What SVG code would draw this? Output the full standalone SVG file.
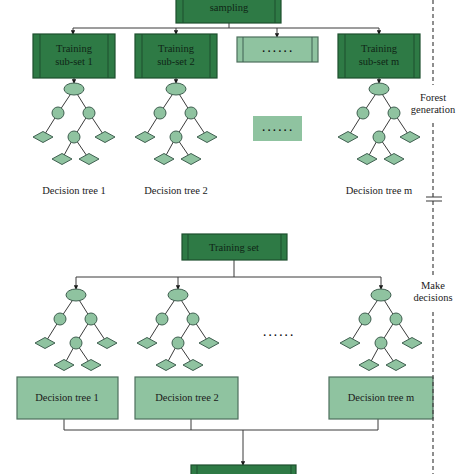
<svg xmlns="http://www.w3.org/2000/svg" xmlns:xlink="http://www.w3.org/1999/xlink" width="474" height="474" viewBox="0 0 474 474">
<style>
.dark{fill:#2e7a45;stroke:#1d4f2e;stroke-width:1.2}
.light{fill:#8fc3a0;stroke:#4d6f5d;stroke-width:1.2}
.inner{stroke:#1d4f2e;stroke-width:1;fill:none}
.innerl{stroke:#3f6152;stroke-width:1;fill:none}
.t{font-family:"Liberation Serif",serif;font-size:10.5px;text-anchor:middle;fill:#1a1a1a}
.tb{font-family:"Liberation Serif",serif;font-size:10.5px;text-anchor:middle;fill:#0e2616}
.dots{font-family:"Liberation Sans",sans-serif;font-size:10px;font-weight:bold;text-anchor:middle;fill:#111;letter-spacing:2.6px}
.conn{stroke:#3a3a3a;stroke-width:1;fill:none}
.tn{fill:#8fc3a0;stroke:#3f5f50;stroke-width:1}
.te{stroke:#3a3a3a;stroke-width:1}
.dash{stroke:#444;stroke-width:1.2;stroke-dasharray:4 3;fill:none}
</style>
<defs>
<marker id="arr" viewBox="0 0 6 6" refX="5" refY="3" markerWidth="4.5" markerHeight="4.5" orient="auto" markerUnits="userSpaceOnUse">
<path d="M0,0 L6,3 L0,6 z" fill="#1a1a1a"/>
</marker>
<g id="tree">
<line class="te" x1="0" y1="0" x2="-16" y2="24"/>
<line class="te" x1="0" y1="0" x2="15" y2="24"/>
<line class="te" x1="-16" y1="24" x2="-31" y2="48"/>
<line class="te" x1="15" y1="24" x2="0" y2="48"/>
<line class="te" x1="15" y1="24" x2="31" y2="48"/>
<line class="te" x1="0" y1="48" x2="-12" y2="70"/>
<line class="te" x1="0" y1="48" x2="15" y2="70"/>
<ellipse class="tn" cx="0" cy="0" rx="10" ry="6"/>
<circle class="tn" cx="-16" cy="24" r="6"/>
<circle class="tn" cx="15" cy="24" r="6"/>
<path class="tn" d="M-41,48 L-31,42.5 L-21,48 L-31,53.5 z"/>
<circle class="tn" cx="0" cy="48" r="6"/>
<path class="tn" d="M21,48 L31,42.5 L41,48 L31,53.5 z"/>
<path class="tn" d="M-22,70 L-12,64.5 L-2,70 L-12,75.5 z"/>
<path class="tn" d="M5,70 L15,64.5 L25,70 L15,75.5 z"/>
</g>
</defs>
<rect width="474" height="474" fill="#ffffff"/>

<g id="connectors">
<path class="conn" d="M229,23 V28 M73,28 H379"/>
<path class="conn" d="M73,28 V34" marker-end="url(#arr)"/>
<path class="conn" d="M176,28 V34" marker-end="url(#arr)"/>
<path class="conn" d="M277,28 V37" marker-end="url(#arr)"/>
<path class="conn" d="M379,28 V34" marker-end="url(#arr)"/>
<path class="conn" d="M74,78 V83" marker-end="url(#arr)"/>
<path class="conn" d="M176,78 V83" marker-end="url(#arr)"/>
<path class="conn" d="M379,78 V83" marker-end="url(#arr)"/>
<path class="conn" d="M234,260 V277 M76,277 H381"/>
<path class="conn" d="M76,277 V289" marker-end="url(#arr)"/>
<path class="conn" d="M178,277 V289" marker-end="url(#arr)"/>
<path class="conn" d="M381,277 V289" marker-end="url(#arr)"/>
<path class="conn" d="M64,419 V430 M191,419 V430 M378,419 V430 M64,430 H378"/>
<path class="conn" d="M243,430 V465" marker-end="url(#arr)"/>
</g>

<g id="sampling">
<rect class="dark" x="176" y="-5" width="105" height="28"/>
<path class="inner" d="M183,-5 V23 M275,-5 V23"/>
<text class="tb" x="229" y="11">sampling</text>
</g>

<g id="subset1">
<rect class="dark" x="33" y="34" width="82" height="44"/>
<path class="inner" d="M40,34 V78 M108,34 V78"/>
<text class="tb" x="74" y="52">Training</text>
<text class="tb" x="74" y="65">sub-set 1</text>
</g>
<g id="subset2">
<rect class="dark" x="135" y="34" width="82" height="44"/>
<path class="inner" d="M142,34 V78 M210,34 V78"/>
<text class="tb" x="176" y="52">Training</text>
<text class="tb" x="176" y="65">sub-set 2</text>
</g>
<g id="subsetdots">
<rect class="light" x="237" y="37" width="81" height="25"/>
<path class="innerl" d="M243,37 V62 M312,37 V62"/>
<text class="dots" x="278.5" y="52">......</text>
</g>
<g id="subsetm">
<rect class="dark" x="338" y="34" width="82" height="44"/>
<path class="inner" d="M345,34 V78 M414,34 V78"/>
<text class="tb" x="379" y="52">Training</text>
<text class="tb" x="379" y="65">sub-set m</text>
</g>

<g id="tree1"><use xlink:href="#tree" x="74" y="89"/><text class="t" x="74" y="194">Decision tree 1</text></g>
<g id="tree2"><use xlink:href="#tree" x="176" y="89"/><text class="t" x="176" y="194">Decision tree 2</text></g>
<g id="treedots">
<rect x="253" y="116" width="49" height="25" fill="#8fc3a0"/>
<text class="dots" x="278.5" y="131">......</text>
</g>
<g id="treem"><use xlink:href="#tree" x="379" y="89"/><text class="t" x="379" y="194">Decision tree m</text></g>

<g id="trainingset">
<rect class="dark" x="182" y="234" width="105" height="26"/>
<path class="inner" d="M188,234 V260 M281,234 V260"/>
<text class="tb" x="234" y="251">Training set</text>
</g>

<g id="ltree1"><use xlink:href="#tree" x="76" y="295"/></g>
<g id="ltree2"><use xlink:href="#tree" x="178" y="295"/></g>
<g id="ldots"><text class="dots" x="279.5" y="336">......</text></g>
<g id="ltreem"><use xlink:href="#tree" x="381" y="295"/></g>

<g id="dt1">
<rect class="light" x="17" y="377" width="101" height="42"/>
<text class="t" x="67" y="401">Decision tree 1</text>
</g>
<g id="dt2">
<rect class="light" x="135" y="377" width="103" height="42"/>
<text class="t" x="187" y="401">Decision tree 2</text>
</g>
<g id="dtm">
<rect class="light" x="329" y="377" width="104" height="42"/>
<text class="t" x="381" y="401">Decision tree m</text>
</g>

<g id="result">
<rect class="dark" x="191" y="465" width="105" height="20"/>
<path class="inner" d="M197,465 V485 M291,465 V485"/>
</g>

<g id="side">
<path class="dash" d="M433,0 V85 M433,123 V197 M433,201 V276 M433,312 V474"/>
<path class="conn" d="M426,197 H442 M426,201 H442" style="stroke-width:1.2"/>
<text class="t" x="433" y="101">Forest</text>
<text class="t" x="433" y="113">generation</text>
<text class="t" x="433" y="289">Make</text>
<text class="t" x="433" y="301">decisions</text>
</g>
</svg>
